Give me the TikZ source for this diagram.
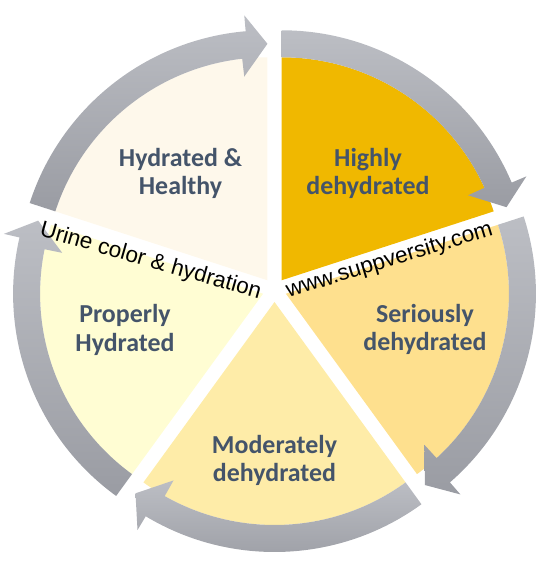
\documentclass[tikz,border=0pt]{standalone}
\usepackage{fontspec}
\setmainfont{Carlito}
\newfontfamily\arialfont{Liberation Sans}
\definecolor{cHighly}{HTML}{F0B800}
\definecolor{cSerious}{HTML}{FEE08E}
\definecolor{cModerate}{HTML}{FEECA8}
\definecolor{cProper}{HTML}{FFFDD3}
\definecolor{cHealthy}{HTML}{FEF8EB}
\definecolor{txt}{HTML}{44546A}
\definecolor{ringL}{HTML}{BCBEC4}
\definecolor{ringD}{HTML}{9A9CA3}
\tikzset{
  lbl/.style={font=\fontsize{26}{28.5}\selectfont\bfseries, text=txt, align=center, inner sep=0pt},
  side/.style={font=\arialfont\fontsize{22.6}{26}\selectfont, text=black, inner sep=0pt},
  ring/.style={top color=ringL, bottom color=ringD}
}
\begin{document}
\begin{tikzpicture}[x=1bp,y=1bp]
\useasboundingbox (0,0) rectangle (558,569);
\foreach \a/\col in {18/cHighly,-54/cSerious,-126/cModerate,162/cProper,90/cHealthy}{
  \pgfmathsetmacro\m{\a+36}
  \begin{scope}[shift={(274.5,279)}, shift={(\m:12)}]
    \fill[\col] (0,0) -- (\a:223) arc[start angle=\a, end angle=\a+72, radius=223] -- cycle;
    \shade[ring] (\a+72:250) arc[start angle=\a+72, end angle=\a+5, radius=250]
      -- (\a+5:266) -- (\a:236.5) -- (\a+6.5:205) -- (\a+6.5:223)
      arc[start angle=\a+6.5, end angle=\a+72, radius=223] -- cycle;
  \end{scope}
}
\node[lbl] (healthy) at (180.5,395.5) {Hydrated \&\\Healthy};
\node[lbl] (highly) at (368,395.5) {Highly\\dehydrated};
\node[lbl] (serious) at (425,239.5) {Seriously\\dehydrated};
\node[lbl] (moderate) at (274.5,108.5) {Moderately\\dehydrated};
\node[lbl] (proper) at (125,239) {Properly\\Hydrated};
\node[side, rotate=-16] (urine) at (150.5,307.5) {Urine color \& hydration};
\node[side, rotate=17] (site) at (389.5,308.4) {www.suppversity.com};
\end{tikzpicture}
\end{document}
